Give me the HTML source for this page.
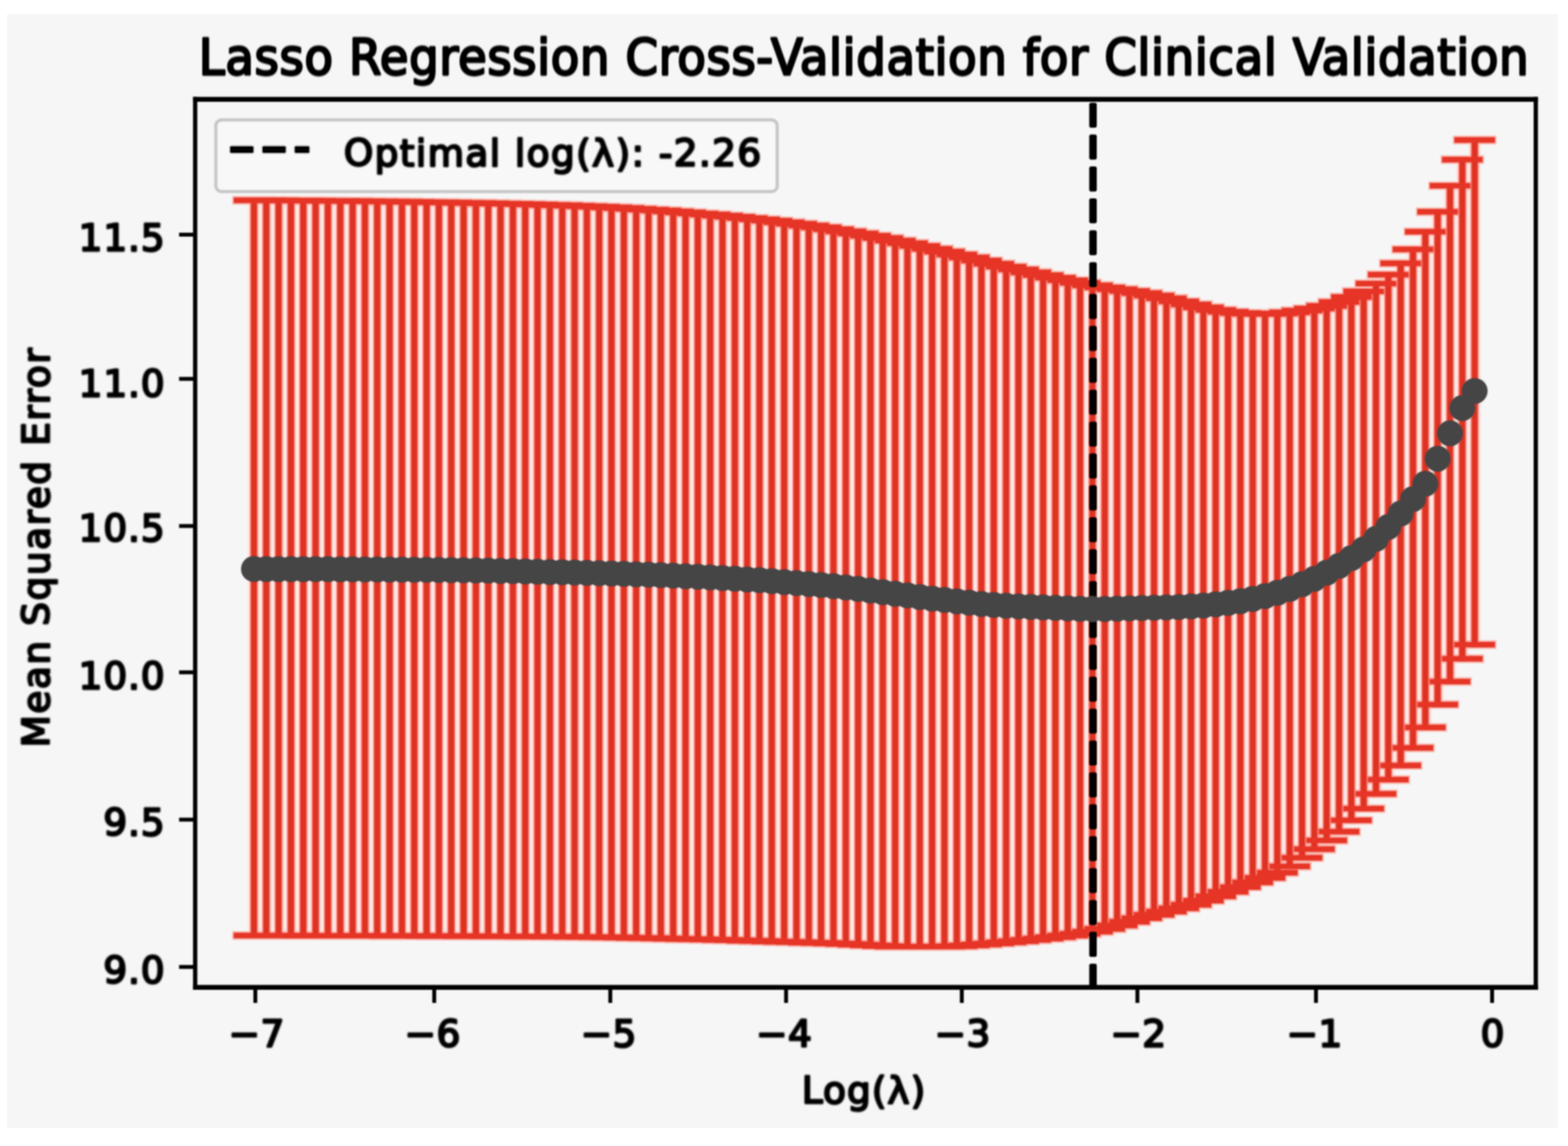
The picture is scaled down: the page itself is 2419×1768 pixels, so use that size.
<!DOCTYPE html>
<html lang="en"><head><meta charset="utf-8"><title>Lasso Regression Cross-Validation for Clinical Validation</title>
<style>
html,body{margin:0;padding:0;background:#fff;}
body{width:2419px;height:1768px;overflow:hidden;}
svg{display:block;}
text{font-family:"DejaVu Sans","Liberation Sans",sans-serif;fill:#000;stroke:#000;stroke-width:3.3px;stroke-linejoin:round;}
.ti{stroke-width:3.8px;}
</style></head><body>
<svg width="2419" height="1768" viewBox="0 0 2419 1768">
<defs><filter id="soft" x="-2%" y="-2%" width="104%" height="104%"><feGaussianBlur stdDeviation="1.1"/></filter>
<filter id="soft2" x="-2%" y="-2%" width="104%" height="104%"><feGaussianBlur stdDeviation="1.0"/></filter>
<filter id="tx" x="-10%" y="-25%" width="120%" height="150%"><feGaussianBlur stdDeviation="1.4"/></filter>
<filter id="tx2" x="-10%" y="-25%" width="120%" height="150%"><feGaussianBlur stdDeviation="1.4"/></filter>
</defs>
<rect x="0" y="0" width="2419" height="1768" fill="#fff"/>
<rect x="11" y="22" width="2392" height="1718" fill="#f6f6f6"/>
<g filter="url(#soft2)">
<path d="M391.8 309V1443.3M410.8 309.1V1443.3M429.8 309.2V1443.3M448.9 309.4V1443.3M467.9 309.5V1443.4M486.9 309.7V1443.4M505.9 309.9V1443.4M525 310.1V1443.5M544 310.3V1443.5M563 310.5V1443.6M582 310.8V1443.6M601 311V1443.7M620.1 311.3V1443.7M639.1 311.6V1443.8M658.1 311.9V1443.9M677.1 312.2V1444M696.2 312.5V1444.1M715.2 312.9V1444.2M734.2 313.3V1444.3M753.2 313.7V1444.4M772.2 314.2V1444.5M791.3 314.6V1444.6M810.3 315.1V1444.7M829.3 315.6V1444.8M848.3 316.2V1444.9M867.4 316.8V1445.1M886.4 317.5V1445.3M905.4 318.2V1445.5M924.4 319.1V1445.8M943.4 320V1446.1M962.5 321V1446.5M981.5 322.2V1446.9M1000.5 323.5V1447.3M1019.5 324.8V1447.7M1038.6 326.3V1448.2M1057.6 327.8V1448.7M1076.6 329.4V1449.1M1095.6 331V1449.6M1114.6 332.7V1450.1M1133.7 334.5V1450.6M1152.7 336.4V1451.2M1171.7 338.4V1451.8M1190.7 340.6V1452.4M1209.8 342.9V1453M1228.8 345.3V1453.6M1247.8 348V1454.2M1266.8 350.8V1454.8M1285.8 353.8V1455.5M1304.9 357V1456.2M1323.9 360.3V1457.2M1342.9 363.7V1458.4M1361.9 367.3V1459.4M1381 371.2V1460.2M1400 375.3V1460.3M1419 379.5V1460.3M1438 383.9V1460.3M1457 388.3V1460.3M1476.1 392.7V1459.8M1495.1 397.3V1458.6M1514.1 402.1V1457.1M1533.1 406.9V1455.4M1552.2 411.4V1453.8M1571.2 415.8V1452M1590.2 420.2V1450.1M1609.2 424.4V1448M1628.2 428.6V1445.7M1647.3 432.6V1443.3M1666.3 436.5V1440.5M1685.3 440.2V1437.2M1704.3 443.4V1433M1723.4 446.3V1427.7M1742.4 449.1V1422M1761.4 452.3V1416.4M1780.4 456V1411.3M1799.4 460.3V1406.3M1818.5 465.1V1401.2M1837.5 469.8V1395.7M1856.5 474.3V1389.6M1875.5 478.2V1382.8M1894.6 481.1V1375.7M1913.6 483.1V1368.4M1932.6 484.1V1361.3M1951.6 484.5V1354.2M1970.6 483.8V1346.3M1989.7 481.9V1336.6M2008.7 479.2V1323.3M2027.7 476.1V1310M2046.7 472V1296.6M2065.8 465.9V1283.1M2084.8 458.3V1265.6M2103.8 449.5V1247.5M2122.8 437.6V1224.7M2141.8 423.8V1202.7M2160.9 406.3V1180.9M2179.9 384.7V1153.7M2198.9 357.4V1122.3M2217.9 326.7V1086.9M2237 286.6V1051.5M2256 246.3V1016.2M2275 216V994.5" stroke="#ffe8e5" stroke-width="20" fill="none"/>
<path d="M358.3 309h67M358.3 1443.3h67M377.3 309.1h67M377.3 1443.3h67M396.3 309.2h67M396.3 1443.3h67M415.4 309.4h67M415.4 1443.3h67M434.4 309.5h67M434.4 1443.4h67M453.4 309.7h67M453.4 1443.4h67M472.4 309.9h67M472.4 1443.4h67M491.5 310.1h67M491.5 1443.5h67M510.5 310.3h67M510.5 1443.5h67M529.5 310.5h67M529.5 1443.6h67M548.5 310.8h67M548.5 1443.6h67M567.5 311h67M567.5 1443.7h67M586.6 311.3h67M586.6 1443.7h67M605.6 311.6h67M605.6 1443.8h67M624.6 311.9h67M624.6 1443.9h67M643.6 312.2h67M643.6 1444h67M662.7 312.5h67M662.7 1444.1h67M681.7 312.9h67M681.7 1444.2h67M700.7 313.3h67M700.7 1444.3h67M719.7 313.7h67M719.7 1444.4h67M738.7 314.2h67M738.7 1444.5h67M757.8 314.6h67M757.8 1444.6h67M776.8 315.1h67M776.8 1444.7h67M795.8 315.6h67M795.8 1444.8h67M814.8 316.2h67M814.8 1444.9h67M833.9 316.8h67M833.9 1445.1h67M852.9 317.5h67M852.9 1445.3h67M871.9 318.2h67M871.9 1445.5h67M890.9 319.1h67M890.9 1445.8h67M909.9 320h67M909.9 1446.1h67M929 321h67M929 1446.5h67M948 322.2h67M948 1446.9h67M967 323.5h67M967 1447.3h67M986 324.8h67M986 1447.7h67M1005.1 326.3h67M1005.1 1448.2h67M1024.1 327.8h67M1024.1 1448.7h67M1043.1 329.4h67M1043.1 1449.1h67M1062.1 331h67M1062.1 1449.6h67M1081.1 332.7h67M1081.1 1450.1h67M1100.2 334.5h67M1100.2 1450.6h67M1119.2 336.4h67M1119.2 1451.2h67M1138.2 338.4h67M1138.2 1451.8h67M1157.2 340.6h67M1157.2 1452.4h67M1176.3 342.9h67M1176.3 1453h67M1195.3 345.3h67M1195.3 1453.6h67M1214.3 348h67M1214.3 1454.2h67M1233.3 350.8h67M1233.3 1454.8h67M1252.3 353.8h67M1252.3 1455.5h67M1271.4 357h67M1271.4 1456.2h67M1290.4 360.3h67M1290.4 1457.2h67M1309.4 363.7h67M1309.4 1458.4h67M1328.4 367.3h67M1328.4 1459.4h67M1347.5 371.2h67M1347.5 1460.2h67M1366.5 375.3h67M1366.5 1460.3h67M1385.5 379.5h67M1385.5 1460.3h67M1404.5 383.9h67M1404.5 1460.3h67M1423.5 388.3h67M1423.5 1460.3h67M1442.6 392.7h67M1442.6 1459.8h67M1461.6 397.3h67M1461.6 1458.6h67M1480.6 402.1h67M1480.6 1457.1h67M1499.6 406.9h67M1499.6 1455.4h67M1518.7 411.4h67M1518.7 1453.8h67M1537.7 415.8h67M1537.7 1452h67M1556.7 420.2h67M1556.7 1450.1h67M1575.7 424.4h67M1575.7 1448h67M1594.7 428.6h67M1594.7 1445.7h67M1613.8 432.6h67M1613.8 1443.3h67M1632.8 436.5h67M1632.8 1440.5h67M1651.8 440.2h67M1651.8 1437.2h67M1670.8 443.4h67M1670.8 1433h67M1689.9 446.3h67M1689.9 1427.7h67M1708.9 449.1h67M1708.9 1422h67M1727.9 452.3h67M1727.9 1416.4h67M1746.9 456h67M1746.9 1411.3h67M1765.9 460.3h67M1765.9 1406.3h67M1785 465.1h67M1785 1401.2h67M1804 469.8h67M1804 1395.7h67M1823 474.3h67M1823 1389.6h67M1842 478.2h67M1842 1382.8h67M1861.1 481.1h67M1861.1 1375.7h67M1880.1 483.1h67M1880.1 1368.4h67M1899.1 484.1h67M1899.1 1361.3h67M1918.1 484.5h67M1918.1 1354.2h67M1937.1 483.8h67M1937.1 1346.3h67M1956.2 481.9h67M1956.2 1336.6h67M1975.2 479.2h67M1975.2 1323.3h67M1994.2 476.1h67M1994.2 1310h67M2013.2 472h67M2013.2 1296.6h67M2032.3 465.9h67M2032.3 1283.1h67M2051.3 458.3h67M2051.3 1265.6h67M2070.3 449.5h67M2070.3 1247.5h67M2089.3 437.6h67M2089.3 1224.7h67M2108.3 423.8h67M2108.3 1202.7h67M2127.4 406.3h67M2127.4 1180.9h67M2146.4 384.7h67M2146.4 1153.7h67M2165.4 357.4h67M2165.4 1122.3h67M2184.4 326.7h67M2184.4 1086.9h67M2203.5 286.6h67M2203.5 1051.5h67M2222.5 246.3h67M2222.5 1016.2h67M2241.5 216h67M2241.5 994.5h67" stroke="#ff9080" stroke-opacity="0.6" stroke-width="13.4" fill="none"/>
<path d="M391.8 309V1443.3M410.8 309.1V1443.3M429.8 309.2V1443.3M448.9 309.4V1443.3M467.9 309.5V1443.4M486.9 309.7V1443.4M505.9 309.9V1443.4M525 310.1V1443.5M544 310.3V1443.5M563 310.5V1443.6M582 310.8V1443.6M601 311V1443.7M620.1 311.3V1443.7M639.1 311.6V1443.8M658.1 311.9V1443.9M677.1 312.2V1444M696.2 312.5V1444.1M715.2 312.9V1444.2M734.2 313.3V1444.3M753.2 313.7V1444.4M772.2 314.2V1444.5M791.3 314.6V1444.6M810.3 315.1V1444.7M829.3 315.6V1444.8M848.3 316.2V1444.9M867.4 316.8V1445.1M886.4 317.5V1445.3M905.4 318.2V1445.5M924.4 319.1V1445.8M943.4 320V1446.1M962.5 321V1446.5M981.5 322.2V1446.9M1000.5 323.5V1447.3M1019.5 324.8V1447.7M1038.6 326.3V1448.2M1057.6 327.8V1448.7M1076.6 329.4V1449.1M1095.6 331V1449.6M1114.6 332.7V1450.1M1133.7 334.5V1450.6M1152.7 336.4V1451.2M1171.7 338.4V1451.8M1190.7 340.6V1452.4M1209.8 342.9V1453M1228.8 345.3V1453.6M1247.8 348V1454.2M1266.8 350.8V1454.8M1285.8 353.8V1455.5M1304.9 357V1456.2M1323.9 360.3V1457.2M1342.9 363.7V1458.4M1361.9 367.3V1459.4M1381 371.2V1460.2M1400 375.3V1460.3M1419 379.5V1460.3M1438 383.9V1460.3M1457 388.3V1460.3M1476.1 392.7V1459.8M1495.1 397.3V1458.6M1514.1 402.1V1457.1M1533.1 406.9V1455.4M1552.2 411.4V1453.8M1571.2 415.8V1452M1590.2 420.2V1450.1M1609.2 424.4V1448M1628.2 428.6V1445.7M1647.3 432.6V1443.3M1666.3 436.5V1440.5M1685.3 440.2V1437.2M1704.3 443.4V1433M1723.4 446.3V1427.7M1742.4 449.1V1422M1761.4 452.3V1416.4M1780.4 456V1411.3M1799.4 460.3V1406.3M1818.5 465.1V1401.2M1837.5 469.8V1395.7M1856.5 474.3V1389.6M1875.5 478.2V1382.8M1894.6 481.1V1375.7M1913.6 483.1V1368.4M1932.6 484.1V1361.3M1951.6 484.5V1354.2M1970.6 483.8V1346.3M1989.7 481.9V1336.6M2008.7 479.2V1323.3M2027.7 476.1V1310M2046.7 472V1296.6M2065.8 465.9V1283.1M2084.8 458.3V1265.6M2103.8 449.5V1247.5M2122.8 437.6V1224.7M2141.8 423.8V1202.7M2160.9 406.3V1180.9M2179.9 384.7V1153.7M2198.9 357.4V1122.3M2217.9 326.7V1086.9M2237 286.6V1051.5M2256 246.3V1016.2M2275 216V994.5" stroke="#ffaa9e" stroke-width="13.7" fill="none"/>
<path d="M391.8 309V1443.3M410.8 309.1V1443.3M429.8 309.2V1443.3M448.9 309.4V1443.3M467.9 309.5V1443.4M486.9 309.7V1443.4M505.9 309.9V1443.4M525 310.1V1443.5M544 310.3V1443.5M563 310.5V1443.6M582 310.8V1443.6M601 311V1443.7M620.1 311.3V1443.7M639.1 311.6V1443.8M658.1 311.9V1443.9M677.1 312.2V1444M696.2 312.5V1444.1M715.2 312.9V1444.2M734.2 313.3V1444.3M753.2 313.7V1444.4M772.2 314.2V1444.5M791.3 314.6V1444.6M810.3 315.1V1444.7M829.3 315.6V1444.8M848.3 316.2V1444.9M867.4 316.8V1445.1M886.4 317.5V1445.3M905.4 318.2V1445.5M924.4 319.1V1445.8M943.4 320V1446.1M962.5 321V1446.5M981.5 322.2V1446.9M1000.5 323.5V1447.3M1019.5 324.8V1447.7M1038.6 326.3V1448.2M1057.6 327.8V1448.7M1076.6 329.4V1449.1M1095.6 331V1449.6M1114.6 332.7V1450.1M1133.7 334.5V1450.6M1152.7 336.4V1451.2M1171.7 338.4V1451.8M1190.7 340.6V1452.4M1209.8 342.9V1453M1228.8 345.3V1453.6M1247.8 348V1454.2M1266.8 350.8V1454.8M1285.8 353.8V1455.5M1304.9 357V1456.2M1323.9 360.3V1457.2M1342.9 363.7V1458.4M1361.9 367.3V1459.4M1381 371.2V1460.2M1400 375.3V1460.3M1419 379.5V1460.3M1438 383.9V1460.3M1457 388.3V1460.3M1476.1 392.7V1459.8M1495.1 397.3V1458.6M1514.1 402.1V1457.1M1533.1 406.9V1455.4M1552.2 411.4V1453.8M1571.2 415.8V1452M1590.2 420.2V1450.1M1609.2 424.4V1448M1628.2 428.6V1445.7M1647.3 432.6V1443.3M1666.3 436.5V1440.5M1685.3 440.2V1437.2M1704.3 443.4V1433M1723.4 446.3V1427.7M1742.4 449.1V1422M1761.4 452.3V1416.4M1780.4 456V1411.3M1799.4 460.3V1406.3M1818.5 465.1V1401.2M1837.5 469.8V1395.7M1856.5 474.3V1389.6M1875.5 478.2V1382.8M1894.6 481.1V1375.7M1913.6 483.1V1368.4M1932.6 484.1V1361.3M1951.6 484.5V1354.2M1970.6 483.8V1346.3M1989.7 481.9V1336.6M2008.7 479.2V1323.3M2027.7 476.1V1310M2046.7 472V1296.6M2065.8 465.9V1283.1M2084.8 458.3V1265.6M2103.8 449.5V1247.5M2122.8 437.6V1224.7M2141.8 423.8V1202.7M2160.9 406.3V1180.9M2179.9 384.7V1153.7M2198.9 357.4V1122.3M2217.9 326.7V1086.9M2237 286.6V1051.5M2256 246.3V1016.2M2275 216V994.5" stroke="#fa6e5f" stroke-width="11.7" fill="none"/>
<path d="M391.8 309V1443.3M410.8 309.1V1443.3M429.8 309.2V1443.3M448.9 309.4V1443.3M467.9 309.5V1443.4M486.9 309.7V1443.4M505.9 309.9V1443.4M525 310.1V1443.5M544 310.3V1443.5M563 310.5V1443.6M582 310.8V1443.6M601 311V1443.7M620.1 311.3V1443.7M639.1 311.6V1443.8M658.1 311.9V1443.9M677.1 312.2V1444M696.2 312.5V1444.1M715.2 312.9V1444.2M734.2 313.3V1444.3M753.2 313.7V1444.4M772.2 314.2V1444.5M791.3 314.6V1444.6M810.3 315.1V1444.7M829.3 315.6V1444.8M848.3 316.2V1444.9M867.4 316.8V1445.1M886.4 317.5V1445.3M905.4 318.2V1445.5M924.4 319.1V1445.8M943.4 320V1446.1M962.5 321V1446.5M981.5 322.2V1446.9M1000.5 323.5V1447.3M1019.5 324.8V1447.7M1038.6 326.3V1448.2M1057.6 327.8V1448.7M1076.6 329.4V1449.1M1095.6 331V1449.6M1114.6 332.7V1450.1M1133.7 334.5V1450.6M1152.7 336.4V1451.2M1171.7 338.4V1451.8M1190.7 340.6V1452.4M1209.8 342.9V1453M1228.8 345.3V1453.6M1247.8 348V1454.2M1266.8 350.8V1454.8M1285.8 353.8V1455.5M1304.9 357V1456.2M1323.9 360.3V1457.2M1342.9 363.7V1458.4M1361.9 367.3V1459.4M1381 371.2V1460.2M1400 375.3V1460.3M1419 379.5V1460.3M1438 383.9V1460.3M1457 388.3V1460.3M1476.1 392.7V1459.8M1495.1 397.3V1458.6M1514.1 402.1V1457.1M1533.1 406.9V1455.4M1552.2 411.4V1453.8M1571.2 415.8V1452M1590.2 420.2V1450.1M1609.2 424.4V1448M1628.2 428.6V1445.7M1647.3 432.6V1443.3M1666.3 436.5V1440.5M1685.3 440.2V1437.2M1704.3 443.4V1433M1723.4 446.3V1427.7M1742.4 449.1V1422M1761.4 452.3V1416.4M1780.4 456V1411.3M1799.4 460.3V1406.3M1818.5 465.1V1401.2M1837.5 469.8V1395.7M1856.5 474.3V1389.6M1875.5 478.2V1382.8M1894.6 481.1V1375.7M1913.6 483.1V1368.4M1932.6 484.1V1361.3M1951.6 484.5V1354.2M1970.6 483.8V1346.3M1989.7 481.9V1336.6M2008.7 479.2V1323.3M2027.7 476.1V1310M2046.7 472V1296.6M2065.8 465.9V1283.1M2084.8 458.3V1265.6M2103.8 449.5V1247.5M2122.8 437.6V1224.7M2141.8 423.8V1202.7M2160.9 406.3V1180.9M2179.9 384.7V1153.7M2198.9 357.4V1122.3M2217.9 326.7V1086.9M2237 286.6V1051.5M2256 246.3V1016.2M2275 216V994.5" stroke="#de3123" stroke-width="8.9" fill="none"/>
<path d="M360.3 309h63M360.3 1443.3h63M379.3 309.1h63M379.3 1443.3h63M398.3 309.2h63M398.3 1443.3h63M417.4 309.4h63M417.4 1443.3h63M436.4 309.5h63M436.4 1443.4h63M455.4 309.7h63M455.4 1443.4h63M474.4 309.9h63M474.4 1443.4h63M493.5 310.1h63M493.5 1443.5h63M512.5 310.3h63M512.5 1443.5h63M531.5 310.5h63M531.5 1443.6h63M550.5 310.8h63M550.5 1443.6h63M569.5 311h63M569.5 1443.7h63M588.6 311.3h63M588.6 1443.7h63M607.6 311.6h63M607.6 1443.8h63M626.6 311.9h63M626.6 1443.9h63M645.6 312.2h63M645.6 1444h63M664.7 312.5h63M664.7 1444.1h63M683.7 312.9h63M683.7 1444.2h63M702.7 313.3h63M702.7 1444.3h63M721.7 313.7h63M721.7 1444.4h63M740.7 314.2h63M740.7 1444.5h63M759.8 314.6h63M759.8 1444.6h63M778.8 315.1h63M778.8 1444.7h63M797.8 315.6h63M797.8 1444.8h63M816.8 316.2h63M816.8 1444.9h63M835.9 316.8h63M835.9 1445.1h63M854.9 317.5h63M854.9 1445.3h63M873.9 318.2h63M873.9 1445.5h63M892.9 319.1h63M892.9 1445.8h63M911.9 320h63M911.9 1446.1h63M931 321h63M931 1446.5h63M950 322.2h63M950 1446.9h63M969 323.5h63M969 1447.3h63M988 324.8h63M988 1447.7h63M1007.1 326.3h63M1007.1 1448.2h63M1026.1 327.8h63M1026.1 1448.7h63M1045.1 329.4h63M1045.1 1449.1h63M1064.1 331h63M1064.1 1449.6h63M1083.1 332.7h63M1083.1 1450.1h63M1102.2 334.5h63M1102.2 1450.6h63M1121.2 336.4h63M1121.2 1451.2h63M1140.2 338.4h63M1140.2 1451.8h63M1159.2 340.6h63M1159.2 1452.4h63M1178.3 342.9h63M1178.3 1453h63M1197.3 345.3h63M1197.3 1453.6h63M1216.3 348h63M1216.3 1454.2h63M1235.3 350.8h63M1235.3 1454.8h63M1254.3 353.8h63M1254.3 1455.5h63M1273.4 357h63M1273.4 1456.2h63M1292.4 360.3h63M1292.4 1457.2h63M1311.4 363.7h63M1311.4 1458.4h63M1330.4 367.3h63M1330.4 1459.4h63M1349.5 371.2h63M1349.5 1460.2h63M1368.5 375.3h63M1368.5 1460.3h63M1387.5 379.5h63M1387.5 1460.3h63M1406.5 383.9h63M1406.5 1460.3h63M1425.5 388.3h63M1425.5 1460.3h63M1444.6 392.7h63M1444.6 1459.8h63M1463.6 397.3h63M1463.6 1458.6h63M1482.6 402.1h63M1482.6 1457.1h63M1501.6 406.9h63M1501.6 1455.4h63M1520.7 411.4h63M1520.7 1453.8h63M1539.7 415.8h63M1539.7 1452h63M1558.7 420.2h63M1558.7 1450.1h63M1577.7 424.4h63M1577.7 1448h63M1596.7 428.6h63M1596.7 1445.7h63M1615.8 432.6h63M1615.8 1443.3h63M1634.8 436.5h63M1634.8 1440.5h63M1653.8 440.2h63M1653.8 1437.2h63M1672.8 443.4h63M1672.8 1433h63M1691.9 446.3h63M1691.9 1427.7h63M1710.9 449.1h63M1710.9 1422h63M1729.9 452.3h63M1729.9 1416.4h63M1748.9 456h63M1748.9 1411.3h63M1767.9 460.3h63M1767.9 1406.3h63M1787 465.1h63M1787 1401.2h63M1806 469.8h63M1806 1395.7h63M1825 474.3h63M1825 1389.6h63M1844 478.2h63M1844 1382.8h63M1863.1 481.1h63M1863.1 1375.7h63M1882.1 483.1h63M1882.1 1368.4h63M1901.1 484.1h63M1901.1 1361.3h63M1920.1 484.5h63M1920.1 1354.2h63M1939.1 483.8h63M1939.1 1346.3h63M1958.2 481.9h63M1958.2 1336.6h63M1977.2 479.2h63M1977.2 1323.3h63M1996.2 476.1h63M1996.2 1310h63M2015.2 472h63M2015.2 1296.6h63M2034.3 465.9h63M2034.3 1283.1h63M2053.3 458.3h63M2053.3 1265.6h63M2072.3 449.5h63M2072.3 1247.5h63M2091.3 437.6h63M2091.3 1224.7h63M2110.3 423.8h63M2110.3 1202.7h63M2129.4 406.3h63M2129.4 1180.9h63M2148.4 384.7h63M2148.4 1153.7h63M2167.4 357.4h63M2167.4 1122.3h63M2186.4 326.7h63M2186.4 1086.9h63M2205.5 286.6h63M2205.5 1051.5h63M2224.5 246.3h63M2224.5 1016.2h63M2243.5 216h63M2243.5 994.5h63" stroke="#e63426" stroke-width="9.0" stroke-linecap="butt" fill="none"/>
</g>
<g filter="url(#soft)">
<g fill="#000"><rect x="1680.4" y="158.4" width="11.6" height="38.6" rx="3" ry="3"/><rect x="1680.4" y="207.6" width="11.6" height="38.6" rx="3" ry="3"/><rect x="1680.4" y="256.8" width="11.6" height="38.6" rx="3" ry="3"/><rect x="1680.4" y="306" width="11.6" height="38.6" rx="3" ry="3"/><rect x="1680.4" y="355.2" width="11.6" height="38.6" rx="3" ry="3"/><rect x="1680.4" y="404.4" width="11.6" height="38.6" rx="3" ry="3"/><rect x="1680.4" y="453.6" width="11.6" height="38.6" rx="3" ry="3"/><rect x="1680.4" y="502.8" width="11.6" height="38.6" rx="3" ry="3"/><rect x="1680.4" y="552" width="11.6" height="38.6" rx="3" ry="3"/><rect x="1680.4" y="601.2" width="11.6" height="38.6" rx="3" ry="3"/><rect x="1680.4" y="650.4" width="11.6" height="38.6" rx="3" ry="3"/><rect x="1680.4" y="699.6" width="11.6" height="38.6" rx="3" ry="3"/><rect x="1680.4" y="748.8" width="11.6" height="38.6" rx="3" ry="3"/><rect x="1680.4" y="798" width="11.6" height="38.6" rx="3" ry="3"/><rect x="1680.4" y="847.2" width="11.6" height="38.6" rx="3" ry="3"/><rect x="1680.4" y="896.4" width="11.6" height="38.6" rx="3" ry="3"/><rect x="1680.4" y="945.6" width="11.6" height="38.6" rx="3" ry="3"/><rect x="1680.4" y="994.8" width="11.6" height="38.6" rx="3" ry="3"/><rect x="1680.4" y="1044" width="11.6" height="38.6" rx="3" ry="3"/><rect x="1680.4" y="1093.2" width="11.6" height="38.6" rx="3" ry="3"/><rect x="1680.4" y="1142.4" width="11.6" height="38.6" rx="3" ry="3"/><rect x="1680.4" y="1191.6" width="11.6" height="38.6" rx="3" ry="3"/><rect x="1680.4" y="1240.8" width="11.6" height="38.6" rx="3" ry="3"/><rect x="1680.4" y="1290" width="11.6" height="38.6" rx="3" ry="3"/><rect x="1680.4" y="1339.2" width="11.6" height="38.6" rx="3" ry="3"/><rect x="1680.4" y="1388.4" width="11.6" height="38.6" rx="3" ry="3"/><rect x="1680.4" y="1437.6" width="11.6" height="38.6" rx="3" ry="3"/><rect x="1680.4" y="1486.8" width="11.6" height="37.5" rx="3" ry="3"/></g>
<g fill="#454545"><circle cx="391.8" cy="877.8" r="20.0"/><circle cx="410.8" cy="877.9" r="20.0"/><circle cx="429.8" cy="877.9" r="20.0"/><circle cx="448.9" cy="877.9" r="20.0"/><circle cx="467.9" cy="878" r="20.0"/><circle cx="486.9" cy="878.1" r="20.0"/><circle cx="505.9" cy="878.1" r="20.0"/><circle cx="525" cy="878.2" r="20.0"/><circle cx="544" cy="878.3" r="20.0"/><circle cx="563" cy="878.4" r="20.0"/><circle cx="582" cy="878.6" r="20.0"/><circle cx="601" cy="878.7" r="20.0"/><circle cx="620.1" cy="878.8" r="20.0"/><circle cx="639.1" cy="879" r="20.0"/><circle cx="658.1" cy="879.1" r="20.0"/><circle cx="677.1" cy="879.3" r="20.0"/><circle cx="696.2" cy="879.4" r="20.0"/><circle cx="715.2" cy="879.7" r="20.0"/><circle cx="734.2" cy="880" r="20.0"/><circle cx="753.2" cy="880.3" r="20.0"/><circle cx="772.2" cy="880.7" r="20.0"/><circle cx="791.3" cy="881.1" r="20.0"/><circle cx="810.3" cy="881.5" r="20.0"/><circle cx="829.3" cy="882" r="20.0"/><circle cx="848.3" cy="882.4" r="20.0"/><circle cx="867.4" cy="882.8" r="20.0"/><circle cx="886.4" cy="883.2" r="20.0"/><circle cx="905.4" cy="883.7" r="20.0"/><circle cx="924.4" cy="884.2" r="20.0"/><circle cx="943.4" cy="884.7" r="20.0"/><circle cx="962.5" cy="885.3" r="20.0"/><circle cx="981.5" cy="885.9" r="20.0"/><circle cx="1000.5" cy="886.6" r="20.0"/><circle cx="1019.5" cy="887.3" r="20.0"/><circle cx="1038.6" cy="888" r="20.0"/><circle cx="1057.6" cy="888.9" r="20.0"/><circle cx="1076.6" cy="889.7" r="20.0"/><circle cx="1095.6" cy="890.7" r="20.0"/><circle cx="1114.6" cy="891.7" r="20.0"/><circle cx="1133.7" cy="892.7" r="20.0"/><circle cx="1152.7" cy="893.9" r="20.0"/><circle cx="1171.7" cy="895.1" r="20.0"/><circle cx="1190.7" cy="896.5" r="20.0"/><circle cx="1209.8" cy="897.9" r="20.0"/><circle cx="1228.8" cy="899.4" r="20.0"/><circle cx="1247.8" cy="900.9" r="20.0"/><circle cx="1266.8" cy="902.6" r="20.0"/><circle cx="1285.8" cy="904.3" r="20.0"/><circle cx="1304.9" cy="906.3" r="20.0"/><circle cx="1323.9" cy="908.6" r="20.0"/><circle cx="1342.9" cy="911" r="20.0"/><circle cx="1361.9" cy="913.6" r="20.0"/><circle cx="1381" cy="916.1" r="20.0"/><circle cx="1400" cy="918.6" r="20.0"/><circle cx="1419" cy="921.1" r="20.0"/><circle cx="1438" cy="923.4" r="20.0"/><circle cx="1457" cy="925.6" r="20.0"/><circle cx="1476.1" cy="927.7" r="20.0"/><circle cx="1495.1" cy="929.8" r="20.0"/><circle cx="1514.1" cy="931.7" r="20.0"/><circle cx="1533.1" cy="933.2" r="20.0"/><circle cx="1552.2" cy="934.4" r="20.0"/><circle cx="1571.2" cy="935.4" r="20.0"/><circle cx="1590.2" cy="936.2" r="20.0"/><circle cx="1609.2" cy="937" r="20.0"/><circle cx="1628.2" cy="937.7" r="20.0"/><circle cx="1647.3" cy="938.5" r="20.0"/><circle cx="1666.3" cy="939.2" r="20.0"/><circle cx="1685.3" cy="939.5" r="20.0"/><circle cx="1704.3" cy="939.4" r="20.0"/><circle cx="1723.4" cy="939" r="20.0"/><circle cx="1742.4" cy="938.4" r="20.0"/><circle cx="1761.4" cy="937.9" r="20.0"/><circle cx="1780.4" cy="937.4" r="20.0"/><circle cx="1799.4" cy="937" r="20.0"/><circle cx="1818.5" cy="936.5" r="20.0"/><circle cx="1837.5" cy="935.6" r="20.0"/><circle cx="1856.5" cy="934.2" r="20.0"/><circle cx="1875.5" cy="932.3" r="20.0"/><circle cx="1894.6" cy="930.1" r="20.0"/><circle cx="1913.6" cy="927.4" r="20.0"/><circle cx="1932.6" cy="923.9" r="20.0"/><circle cx="1951.6" cy="919.6" r="20.0"/><circle cx="1970.6" cy="914.5" r="20.0"/><circle cx="1989.7" cy="908.6" r="20.0"/><circle cx="2008.7" cy="901.3" r="20.0"/><circle cx="2027.7" cy="892.9" r="20.0"/><circle cx="2046.7" cy="883.5" r="20.0"/><circle cx="2065.8" cy="873.1" r="20.0"/><circle cx="2084.8" cy="861.1" r="20.0"/><circle cx="2103.8" cy="847.4" r="20.0"/><circle cx="2122.8" cy="831.3" r="20.0"/><circle cx="2141.8" cy="812.9" r="20.0"/><circle cx="2160.9" cy="792.3" r="20.0"/><circle cx="2179.9" cy="769.9" r="20.0"/><circle cx="2198.9" cy="746.3" r="20.0"/><circle cx="2217.9" cy="707.7" r="20.0"/><circle cx="2237" cy="668.6" r="20.0"/><circle cx="2256" cy="629.6" r="20.0"/><circle cx="2275" cy="603.2" r="20.0"/></g>
<rect x="333.0" y="185.0" width="866.0" height="110.60000000000002" rx="9" ry="9" fill="#f8f8f8" stroke="#c7c7c7" stroke-width="5"/>
<rect x="354.2" y="224.8" width="37.6" height="12" rx="3" ry="3" fill="#000"/>
<rect x="404" y="224.8" width="37.6" height="12" rx="3" ry="3" fill="#000"/>
<rect x="453.8" y="224.8" width="24.3" height="12" rx="3" ry="3" fill="#000"/>
<path d="M301.1 149.39999999999998V1527.1M2369.3 149.39999999999998V1527.1" stroke="#000" stroke-width="6.6" fill="none"/>
<path d="M297.8 153.2H2372.6000000000004M297.8 1523.3H2372.6000000000004" stroke="#000" stroke-width="7.6" fill="none"/>
<path d="M393.9 1523.3V1547.3M669.9 1523.3V1547.3M941.5 1523.3V1547.3M1212.7 1523.3V1547.3M1483.8 1523.3V1547.3M1754.7 1523.3V1547.3M2030.2 1523.3V1547.3M2301.9 1523.3V1547.3M301.1 362H276.3M301.1 584.5H276.3M301.1 811.5H276.3M301.1 1037.3H276.3M301.1 1264.4H276.3M301.1 1491.7H276.3" stroke="#000" stroke-width="6.0" fill="none"/>
</g>
<text filter="url(#tx)" transform="translate(396.1,1615)" font-size="57.6" letter-spacing="0.9" text-anchor="middle">−7</text>
<text filter="url(#tx)" transform="translate(667.7,1615)" font-size="57.6" letter-spacing="0.9" text-anchor="middle">−6</text>
<text filter="url(#tx)" transform="translate(939.3,1615)" font-size="57.6" letter-spacing="0.9" text-anchor="middle">−5</text>
<text filter="url(#tx)" transform="translate(1209.9,1615)" font-size="57.6" letter-spacing="0.9" text-anchor="middle">−4</text>
<text filter="url(#tx)" transform="translate(1485.3,1615)" font-size="57.6" letter-spacing="0.9" text-anchor="middle">−3</text>
<text filter="url(#tx)" transform="translate(1756.5,1615)" font-size="57.6" letter-spacing="0.9" text-anchor="middle">−2</text>
<text filter="url(#tx)" transform="translate(2028.3,1615)" font-size="57.6" letter-spacing="0.9" text-anchor="middle">−1</text>
<text filter="url(#tx)" transform="translate(2303,1615)" font-size="57.6" letter-spacing="0.9" text-anchor="middle">0</text>
<text filter="url(#tx)" transform="translate(255.2,386.5)" font-size="57.6" letter-spacing="1.4" text-anchor="end">11.5</text>
<text filter="url(#tx)" transform="translate(255.2,611.5)" font-size="57.6" letter-spacing="1.4" text-anchor="end">11.0</text>
<text filter="url(#tx)" transform="translate(255.2,834.5)" font-size="57.6" letter-spacing="1.4" text-anchor="end">10.5</text>
<text filter="url(#tx)" transform="translate(255.2,1063)" font-size="57.6" letter-spacing="1.4" text-anchor="end">10.0</text>
<text filter="url(#tx)" transform="translate(255.2,1289)" font-size="57.6" letter-spacing="1.4" text-anchor="end">9.5</text>
<text filter="url(#tx)" transform="translate(255.2,1517)" font-size="57.6" letter-spacing="1.4" text-anchor="end">9.0</text>
<text filter="url(#tx)" transform="translate(1333,1702)" font-size="57.6" letter-spacing="1.7" text-anchor="middle">Log(λ)</text>
<text filter="url(#tx)" transform="translate(75.8,844) rotate(-90)" font-size="57.6" letter-spacing="2.5" text-anchor="middle">Mean Squared Error</text>
<text filter="url(#tx)" transform="translate(530.5,256.2)" font-size="57.6" letter-spacing="2.2" text-anchor="start">Optimal log(λ): -2.26</text>
<text filter="url(#tx2)" class="ti" transform="translate(1333,114.8) scale(0.931,1)" font-size="77.0" letter-spacing="1.15" text-anchor="middle">Lasso Regression Cross-Validation for Clinical Validation</text>
</svg></body></html>
